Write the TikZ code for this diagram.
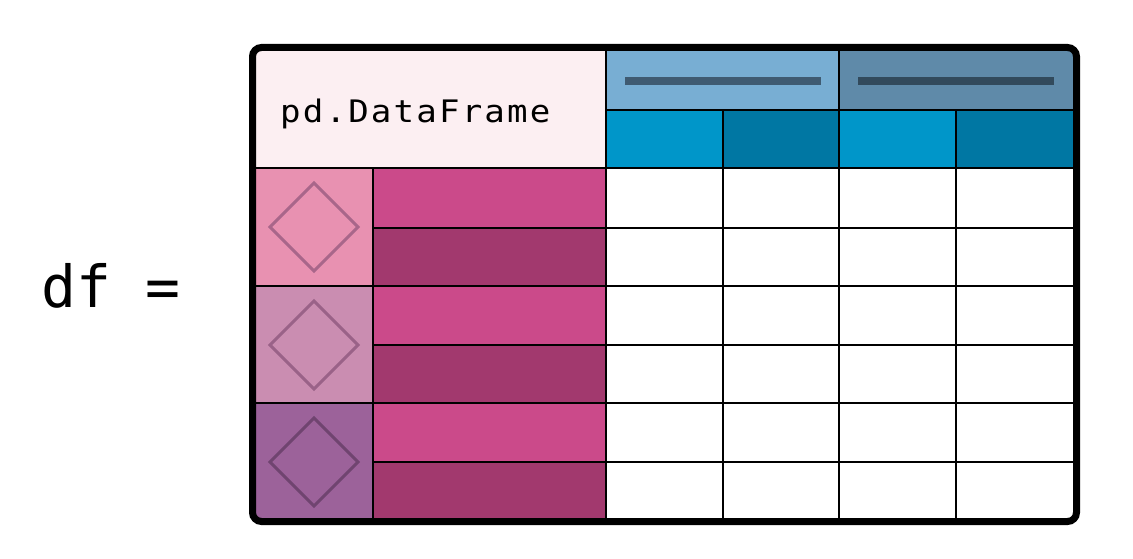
\documentclass[tikz,border=0pt]{standalone}
\usepackage{fontspec}
\newfontfamily\monoA{DejaVu Sans Mono}
\newfontfamily\monoB[FakeStretch=1.1,LetterSpace=7]{DejaVu Sans Mono}
\definecolor{hdrpink}{HTML}{FCEFF2}
\definecolor{hdrA}{HTML}{78AED3}
\definecolor{hdrB}{HTML}{5F8AA9}
\definecolor{dashA}{HTML}{3F5B72}
\definecolor{dashB}{HTML}{324A5C}
\definecolor{colA}{HTML}{0096C9}
\definecolor{colB}{HTML}{0077A3}
\definecolor{idxA}{HTML}{E891B1}
\definecolor{idxB}{HTML}{CA8DB1}
\definecolor{idxC}{HTML}{9C629A}
\definecolor{dmA}{HTML}{A9668A}
\definecolor{dmB}{HTML}{9A6288}
\definecolor{dmC}{HTML}{704470}
\definecolor{subA}{HTML}{CB4A8A}
\definecolor{subB}{HTML}{A2396E}
\tikzset{
  grid/.style={line width=2pt, black},
  frame/.style={line width=7pt, black, rounded corners=9pt},
  diam/.style={line width=3pt},
}
\begin{document}
\begin{tikzpicture}[x=1pt,y=-1pt]
\useasboundingbox (0,0) rectangle (1133,559);
% header
\fill[hdrpink] (255,51) rectangle (606,168);
\fill[hdrA] (606,51) rectangle (839,110);
\fill[hdrB] (839,51) rectangle (1073,110);
\fill[dashA] (625,77) rectangle (821,85);
\fill[dashB] (858,77) rectangle (1054,85);
\fill[colA] (606,110) rectangle (723,168);
\fill[colB] (723,110) rectangle (839,168);
\fill[colA] (839,110) rectangle (956,168);
\fill[colB] (956,110) rectangle (1073,168);
% index level 0
\fill[idxA] (255,168) rectangle (373,286);
\fill[idxB] (255,286) rectangle (373,403);
\fill[idxC] (255,403) rectangle (373,520);
\draw[diam,dmA] (314,183) -- (358,227) -- (314,271) -- (270,227) -- cycle;
\draw[diam,dmB] (314,301) -- (358,345) -- (314,389) -- (270,345) -- cycle;
\draw[diam,dmC] (314,418) -- (358,462) -- (314,506) -- (270,462) -- cycle;
% index level 1
\fill[subA] (373,168) rectangle (606,228);
\fill[subB] (373,228) rectangle (606,286);
\fill[subA] (373,286) rectangle (606,345);
\fill[subB] (373,345) rectangle (606,403);
\fill[subA] (373,403) rectangle (606,462);
\fill[subB] (373,462) rectangle (606,520);
% grid lines
\draw[grid] (606,110) -- (1073,110);
\draw[grid] (255,168) -- (1073,168);
\foreach \y in {228,345,462} \draw[grid] (373,\y) -- (1073,\y);
\foreach \y in {286,403} \draw[grid] (255,\y) -- (1073,\y);
\draw[grid] (373,168) -- (373,520);
\draw[grid] (606,51) -- (606,520);
\draw[grid] (723,110) -- (723,520);
\draw[grid] (839,51) -- (839,520);
\draw[grid] (956,110) -- (956,520);
% frame
\draw[frame] (252.5,47.5) rectangle (1076.5,521.5);
% texts
\node[anchor=base west, inner sep=0pt, font=\monoB\fontsize{31}{31}\selectfont] (title) at (280,123) {pd.DataFrame};
\node[anchor=base west, inner sep=0pt, font=\monoA\fontsize{58}{58}\selectfont] (lhs) at (41,307) {df =};
\end{tikzpicture}
\end{document}
